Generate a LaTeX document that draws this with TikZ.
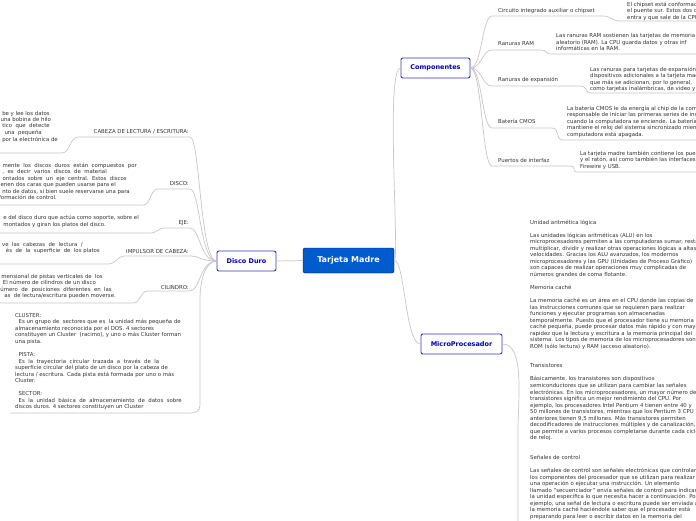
\documentclass[tikz,border=0pt]{standalone}
\usepackage{fontspec}
\setmainfont{DejaVu Sans}
\begin{document}
\begin{tikzpicture}[x=1pt,y=-1pt,
  lnk/.style={draw=black!22,line width=0.7pt},
  tx/.style={inner sep=0pt,font=\fontsize{5.4}{6.55}\selectfont,text=black!80},
  lbl/.style={tx,anchor=base west},
  rl/.style={tx,anchor=base east},
  blk/.style={tx,anchor=north west,align=left},
  topic/.style={draw=blue!70!black!80,line width=0.9pt,rounded corners=2pt,fill=white,text=blue!70!black,font=\fontsize{6.5}{8}\selectfont\bfseries,minimum height=20pt,inner sep=0pt}]
\useasboundingbox (0,0) rectangle (696,520);
\clip (0,0) rectangle (696,520);
\fill[white] (0,0) rectangle (696,520);
% central nodes
\node[draw=blue!60!black,fill=blue!55!cyan!80!black,text=white,rounded corners=2pt,minimum width=91pt,minimum height=25pt,font=\fontsize{8}{9}\selectfont\bfseries,inner sep=0pt] (tm) at (348.5,260.5) {Tarjeta Madre};
\node[topic,minimum width=59pt] (dd) at (246.5,261) {Disco Duro};
\node[topic,minimum width=69pt] (co) at (435.5,68) {Componentes};
\node[topic,minimum width=81pt] (mp) at (461.5,344) {MicroProcesador};
\draw[lnk] (dd.east) -- (tm.west);
\draw[lnk] (tm.east) .. controls (400,260) and (385,68) .. (co.west);
\draw[lnk] (tm.east) .. controls (405,260) and (405,344) .. (mp.west);
\draw[lnk] (mp.east) .. controls (525,344) and (518,400) .. (518,430) -- (518,530);
% Left labels and connectors
\coordinate (dw) at (dd.west);
\node[rl] (l1) at (189,133) {CABEZA DE LECTURA / ESCRITURA:};
\node[rl] (l2) at (189,185) {DISCO:};
\node[rl] (l3) at (189,224) {EJE:};
\node[rl] (l4) at (189,253) {IMPULSOR DE CABEZA:};
\node[rl] (l5) at (189,289) {CILINDRO:};
\foreach \y/\xa/\yb/\xb in {137/78/153/62, 189/158/205/143, 228/165/233/150, 256/125/264/108, 291/148/303/133}{
  \draw[lnk] (dw) .. controls (200,261) and (200,\y) .. (190,\y) -- (\xa,\y) .. controls (\xa-8,\y) and (\xb+8,\yb) .. (\xb,\yb) -- (-5,\yb);
}
\draw[lnk] (dw) .. controls (205,262) and (200,280) .. (200,300) -- (200,405) .. controls (200,411) and (196,413) .. (190,413) -- (10,413);
% Left texts
\node[rl] at (50,115) {be y lee los datos};
\node[rl] at (51,121) {una bobina de hilo};
\node[rl] at (50,127.5) {tico\ \ que\ \ detecte};
\node[rl] at (42,134) {una\ \ pequeña};
\node[rl] at (58,141) {por la electrónica de};
\node[rl] at (137,167) {mente\ \ los\ \ discos\ \ duros\ \ están\ \ compuestos\ \ por};
\node[rl] at (107,173.5) {,\ \ es\ \ decir\ \ varios\ \ discos\ \ de\ \ material};
\node[rl] at (127,180) {ontados\ \ sobre\ \ un\ \ eje\ \ central.\ \ Estos\ \ discos};
\node[rl] at (116,186.5) {tienen dos caras que pueden usarse para el};
\node[rl] at (130,193) {nto de datos, si bien suele reservarse una para};
\node[rl] at (57,199.5) {formación de control.};
\node[rl] at (139,219) {e del disco duro que actúa como soporte, sobre el};
\node[rl] at (106,226) {montados y giran los platos del disco.};
\node[rl] at (83,246) {ve\ \ las\ \ cabezas\ \ de\ \ lectura\ \ /};
\node[rl] at (100,252.5) {és\ \ de\ \ la\ \ superficie\ \ de\ \ los platos};
\node[rl] at (103,278) {mensional de pistas verticales de\ \ los};
\node[rl] at (96,284.5) {El número de cilindros de un disco};
\node[rl] at (112,291) {úmero\ \ de\ \ posiciones\ \ diferentes\ \ en\ \ las};
\node[rl] at (116,297.5) {as\ \ de lectura/escritura pueden moverse.};
\node[blk] at (15,313) {CLUSTER:\\
\ \ Es un grupo de\ \ sectores que es\ \ la unidad más pequeña de\\
almacenamiento reconocida por el DOS. 4 sectores\\
constituyen un Cluster\ \ (racimo), y uno o más Cluster forman\\
una pista.\\[6.5pt]
\ \ PISTA:\\
\ \ Es\ \ la\ \ trayectoria\ \ circular\ \ trazada\ \ a\ \ través\ \ de\ \ la\\
superficie circular del plato de un disco por la cabeza de\\
lectura / escritura. Cada pista está formada por uno o más\\
Cluster.\\[6.5pt]
\ \ SECTOR:\\
\ \ Es\ \ la\ \ unidad\ \ básica\ \ de\ \ almacenamiento\ \ de\ \ datos\ \ sobre\\
discos duros. 4 sectores constituyen un Cluster};
% Right: componentes
\coordinate (ce) at (co.east);
\node[lbl] at (498,12) {Circuito integrado auxiliar o chipset};
\node[lbl] at (498,45) {Ranuras RAM};
\node[lbl] at (498,81) {Ranuras de expansión};
\node[lbl] at (498,123) {Batería CMOS};
\node[lbl] at (498,162) {Puertos de interfaz};
\foreach \y/\xa/\yb/\xb in {16/603/21/620, 50/540/54/552, 86/580/93/592, 128/552/140/563, 166/570/172/578}{
  \draw[lnk] (ce) .. controls (482,68) and (482,\y) .. (492,\y) -- (\xa,\y) .. controls (\xa+8,\y) and (\xb-8,\yb) .. (\xb,\yb) -- (700,\yb);
}
\node[blk] at (627,1.5) {El chipset está conformado\\el puente sur. Estos dos c\\entra y que sale de la CPU};
\node[blk] at (556,33.5) {Las ranuras RAM sostienen las tarjetas de memoria\\aleatorio (RAM). La CPU guarda datos y otras inf\\informáticas en la RAM.};
\node[blk] at (590,66.5) {Las ranuras para tarjetas de expansión\\dispositivos adicionales a la tarjeta mad\\que más se adicionan, por lo general,\\como tarjetas inalámbricas, de video y};
\node[blk] at (567,105.5) {La batería CMOS le da energía al chip de la com\\responsable de iniciar las primeras series de ins\\cuando la computadora se enciende. La batería\\mantiene el reloj del sistema sincronizado mien\\computadora está apagada.};
\node[blk] at (580,150.5) {La tarjeta madre también contiene los pue\\y el ratón, así como también las interfaces\\Firewire y USB.};
% Microprocesador text
\node[blk] at (530,219.5) {Unidad aritmética lógica\\[6.5pt]
Las unidades lógicas aritméticas (ALU) en los\\
microprocesadores permiten a las computadoras sumar, restar,\\
multiplicar, dividir y realizar otras operaciones lógicas a altas\\
velocidades. Gracias los ALU avanzados, los modernos\\
microprocesadores y las GPU (Unidades de Proceso Gráfico)\\
son capaces de realizar operaciones muy complicadas de\\
números grandes de coma flotante.\\[6.5pt]
Memoria caché\\[6.5pt]
La memoria caché es un área en el CPU donde las copias de\\
las instrucciones comunes que se requieren para realizar\\
funciones y ejecutar programas son almacenadas\\
temporalmente. Puesto que el procesador tiene su memoria\\
caché pequeña, puede procesar datos más rápido y con mayor\\
rapidez que la lectura y escritura a la memoria principal del\\
sistema. Los tipos de memoria de los microprocesadores son\\
ROM (sólo lectura) y RAM (acceso aleatorio).\\[13pt]
Transistores\\[6.5pt]
Básicamente, los transistores son dispositivos\\
semiconductores que se utilizan para cambiar las señales\\
electrónicas. En los microprocesadores, un mayor número de\\
transistores significa un mejor rendimiento del CPU. Por\\
ejemplo, los procesadores Intel Pentium 4 tienen entre 40 y\\
50 millones de transistores, mientras que los Pentium 3 CPU\\
anteriores tienen 9,5 millones. Más transistores permiten\\
decodificadores de instrucciones múltiples y de canalización,\\
que permite a varios procesos completarse durante cada ciclo\\
de reloj.\\[13pt]
Señales de control\\[6.5pt]
Las señales de control son señales electrónicas que controlan\\
los componentes del procesador que se utilizan para realizar\\
una operación o ejecutar una instrucción. Un elemento\\
llamado "secuenciador" envía señales de control para indicar\\
la unidad específica lo que necesita hacer a continuación. Por\\
ejemplo, una señal de lectura o escritura puede ser enviada a\\
la memoria caché haciéndole saber que el procesador está\\
preparando para leer o escribir datos en la memoria del};
\end{tikzpicture}
\end{document}
